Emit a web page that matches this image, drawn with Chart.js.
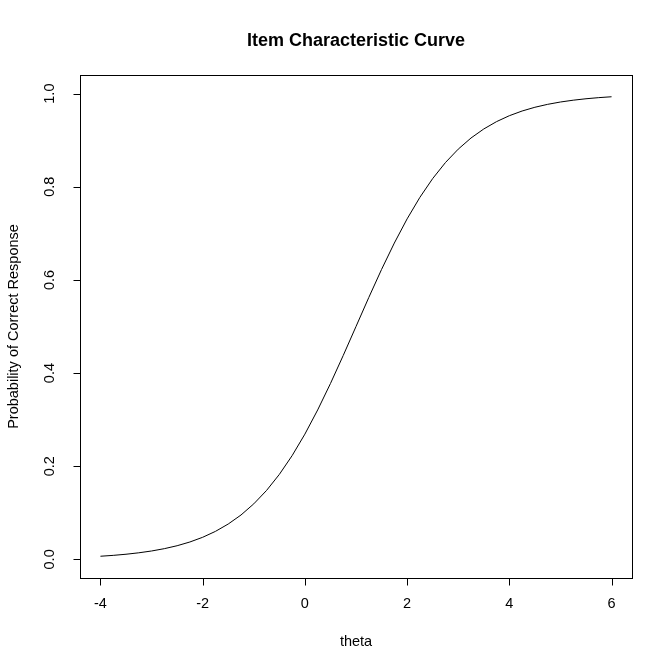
<!DOCTYPE html>
<html><head><meta charset="utf-8">
<script src="https://cdn.jsdelivr.net/npm/chart.js@4"></script>
<style>html,body{margin:0;background:#fff}#w{width:672px;height:672px}</style>
</head><body><div id="w"><canvas id="c"></canvas></div>
<script>
const theta=[-4,-3.75,-3.5,-3.25,-3,-2.75,-2.5,-2.25,-2,-1.75,-1.5,-1.25,-1,-0.75,-0.5,-0.25,0,0.25,0.5,0.75,1,1.25,1.5,1.75,2,2.25,2.5,2.75,3,3.25,3.5,3.75,4,4.25,4.5,4.75,5,5.25,5.5,5.75,6];
const prob=[0.0067,0.0086,0.0110,0.0141,0.0180,0.0230,0.0293,0.0373,0.0474,0.0601,0.0759,0.0953,0.1192,0.1480,0.1824,0.2227,0.2689,0.3208,0.3775,0.4378,0.5,0.5622,0.6225,0.6792,0.7311,0.7773,0.8176,0.8520,0.8808,0.9047,0.9241,0.9399,0.9526,0.9627,0.9707,0.9770,0.9820,0.9859,0.9890,0.9914,0.9933];
const xTicks=[-4,-2,0,2,4,6];
const yTicks=[0,0.2,0.4,0.6,0.8,1];
const yLabels=["0.0","0.2","0.4","0.6","0.8","1.0"];
const F='"Liberation Sans", Arial, sans-serif';
const deco={id:'deco',afterDraw(ch){
 const c=ch.ctx,a=ch.chartArea,x=ch.scales.x,y=ch.scales.y;
 c.save();c.strokeStyle='#000';c.lineWidth=1;c.fillStyle='#000';
 c.strokeRect(a.left+0.5,a.top+0.5,a.right-a.left,a.bottom-a.top);
 const xb=a.bottom+0.5;c.beginPath();
 c.moveTo(x.getPixelForValue(xTicks[0]),xb);c.lineTo(x.getPixelForValue(xTicks[xTicks.length-1]),xb);
 xTicks.forEach(t=>{const p=Math.round(x.getPixelForValue(t))+0.5;c.moveTo(p,xb);c.lineTo(p,xb+7);});
 const yl=a.left+0.5;
 c.moveTo(yl,y.getPixelForValue(yTicks[0]));c.lineTo(yl,y.getPixelForValue(yTicks[yTicks.length-1]));
 yTicks.forEach(t=>{const p=Math.round(y.getPixelForValue(t))+0.5;c.moveTo(yl,p);c.lineTo(yl-7,p);});
 c.stroke();
 c.font='14.5px '+F;c.textAlign='center';c.textBaseline='middle';
 xTicks.forEach(t=>c.fillText(String(t),x.getPixelForValue(t),604));
 yTicks.forEach((t,i)=>{c.save();c.translate(50,y.getPixelForValue(t));c.rotate(-Math.PI/2);c.fillText(yLabels[i],0,0);c.restore();});
 c.fillText('theta',(a.left+a.right)/2,642);
 c.save();c.translate(14,(a.top+a.bottom)/2);c.rotate(-Math.PI/2);c.fillText('Probability of Correct Response',0,0);c.restore();
 c.font='bold 18px '+F;c.fillText('Item Characteristic Curve',(a.left+a.right)/2,41);
 c.restore();}};
new Chart(document.getElementById('c'),{type:'line',
 data:{datasets:[{data:theta.map((t,i)=>({x:t,y:prob[i]})),borderColor:'#000',borderWidth:1,pointRadius:0,fill:false,tension:0}]},
 options:{responsive:true,maintainAspectRatio:false,animation:false,
  layout:{padding:{left:80,right:40,top:75,bottom:94}},
  plugins:{legend:{display:false},tooltip:{enabled:false}},
  scales:{x:{type:'linear',min:-4.4,max:6.4,display:false},y:{min:-0.04,max:1.04,display:false}}},
 plugins:[deco]});
</script></body></html>
